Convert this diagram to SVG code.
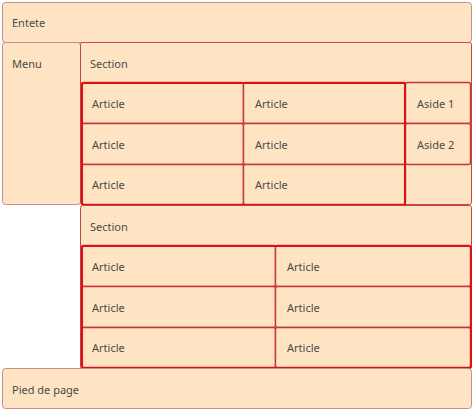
<svg xmlns="http://www.w3.org/2000/svg" width="474" height="411" viewBox="0 0 474 411">
<style>
.box{fill:#FFE4C4;stroke:#c98c8c;stroke-width:1}
.sec{fill:#FFE4C4;stroke:#c84545;stroke-width:1}
.cell{fill:#FFE4C4;stroke:#c83535;stroke-width:1.4}
.grid{fill:none;stroke:#dd1111;stroke-width:2}
text{font-family:"Noto Sans","Liberation Sans",sans-serif;font-size:11px;fill:#4a4a4a;dominant-baseline:central}
</style>
<rect x="0" y="0" width="474" height="411" fill="#ffffff"/>
<g id="entete"><rect class="box" x="2.5" y="2.5" width="469" height="40" rx="3"/><text x="12" y="22">Entete</text></g>
<g id="menu"><rect class="box" x="2.5" y="42.5" width="78" height="162" rx="3"/><text x="12" y="63">Menu</text></g>
<g id="section1"><rect class="sec" x="80.5" y="42.5" width="391" height="162" rx="2"/><text x="90" y="63">Section</text></g>
<g id="s1-a1"><rect class="cell" x="81.5" y="82.5" width="162" height="41" rx="2"/><text x="92" y="103">Article</text></g>
<g id="s1-a2"><rect class="cell" x="243.5" y="82.5" width="162" height="41" rx="2"/><text x="255" y="103">Article</text></g>
<g id="s1-aside1"><rect class="cell" x="405.5" y="82.5" width="65" height="41" rx="2"/><text x="417" y="103">Aside 1</text></g>
<g id="s1-a3"><rect class="cell" x="81.5" y="123.5" width="162" height="41" rx="2"/><text x="92" y="144">Article</text></g>
<g id="s1-a4"><rect class="cell" x="243.5" y="123.5" width="162" height="41" rx="2"/><text x="255" y="144">Article</text></g>
<g id="s1-aside2"><rect class="cell" x="405.5" y="123.5" width="65" height="41" rx="2"/><text x="417" y="144">Aside 2</text></g>
<g id="s1-a5"><rect class="cell" x="81.5" y="164.5" width="162" height="40" rx="2"/><text x="92" y="184">Article</text></g>
<g id="s1-a6"><rect class="cell" x="243.5" y="164.5" width="162" height="40" rx="2"/><text x="255" y="184">Article</text></g>
<rect class="grid" x="82" y="83" width="323" height="122" rx="2"/>
<g id="section2"><rect class="sec" x="80.5" y="205.5" width="391" height="163" rx="2"/><text x="90" y="226">Section</text></g>
<g id="s2-a1"><rect class="cell" x="81.5" y="245.5" width="194" height="41" rx="2"/><text x="92" y="266">Article</text></g>
<g id="s2-a2"><rect class="cell" x="275.5" y="245.5" width="195" height="41" rx="2"/><text x="287" y="266">Article</text></g>
<g id="s2-a3"><rect class="cell" x="81.5" y="286.5" width="194" height="41" rx="2"/><text x="92" y="307">Article</text></g>
<g id="s2-a4"><rect class="cell" x="275.5" y="286.5" width="195" height="41" rx="2"/><text x="287" y="307">Article</text></g>
<g id="s2-a5"><rect class="cell" x="81.5" y="327.5" width="194" height="40" rx="2"/><text x="92" y="347">Article</text></g>
<g id="s2-a6"><rect class="cell" x="275.5" y="327.5" width="195" height="40" rx="2"/><text x="287" y="347">Article</text></g>
<rect class="grid" x="82" y="246" width="389" height="122" rx="2"/>
<g id="footer"><rect class="box" x="2.5" y="368.5" width="469" height="40" rx="3"/><text x="12" y="389">Pied de page</text></g>
<g id="connectors"/>
</svg>
